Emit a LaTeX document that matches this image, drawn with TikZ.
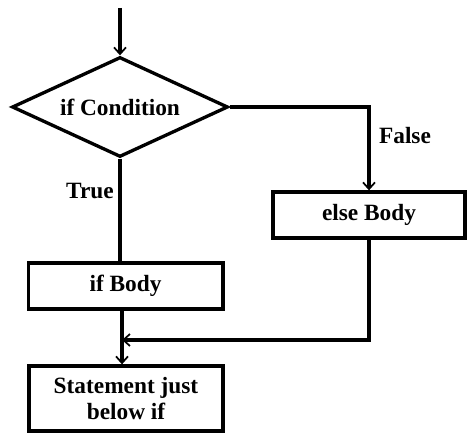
\documentclass[tikz,border=0pt]{standalone}
\usepackage{fontspec}
\setmainfont{Liberation Serif}
\usetikzlibrary{shapes.geometric,arrows.meta}

\begin{document}
\begin{tikzpicture}[x=0.75pt,y=-0.75pt,line width=2.5pt,
    every node/.style={font=\bfseries\fontsize{17.5}{20}\selectfont},
    box/.style={draw,rectangle,minimum height=34.5pt,inner sep=0pt},
    flow/.style={-{Straight Barb[length=5pt,width=9pt,line width=1.3pt]}}]
    \useasboundingbox (0,0) rectangle (474,448);

    % Nodes
    \node[draw,diamond,aspect=2.16,inner sep=0pt,minimum width=162pt,minimum height=75pt] (cond) at (120,107) {if Condition};
    \node[box,minimum width=146pt] (ifbody) at (125.5,286) {if Body};
    \node[box,minimum width=144pt] (elsebody) at (369,215) {else Body};
    \node[box,minimum width=145.5pt,minimum height=48.75pt,align=center] (stmt) at (126,398.5) {Statement just\\below if};

    \node (false) at (405,136) {False};
    \node (true) at (90,191) {True};

    \coordinate (start) at (120,8);
    \coordinate (join) at (122,340);

    % Edges
    \draw[flow] (start) -- (cond.north);
    \draw (cond.south) -- (cond.south |- ifbody.north);
    \draw[flow] (cond.east) -| (elsebody.north);
    \draw[flow] (elsebody.south) |- (join);
    \draw[flow] (ifbody.south -| join) -- (stmt.north -| join);

\end{tikzpicture}
\end{document}
